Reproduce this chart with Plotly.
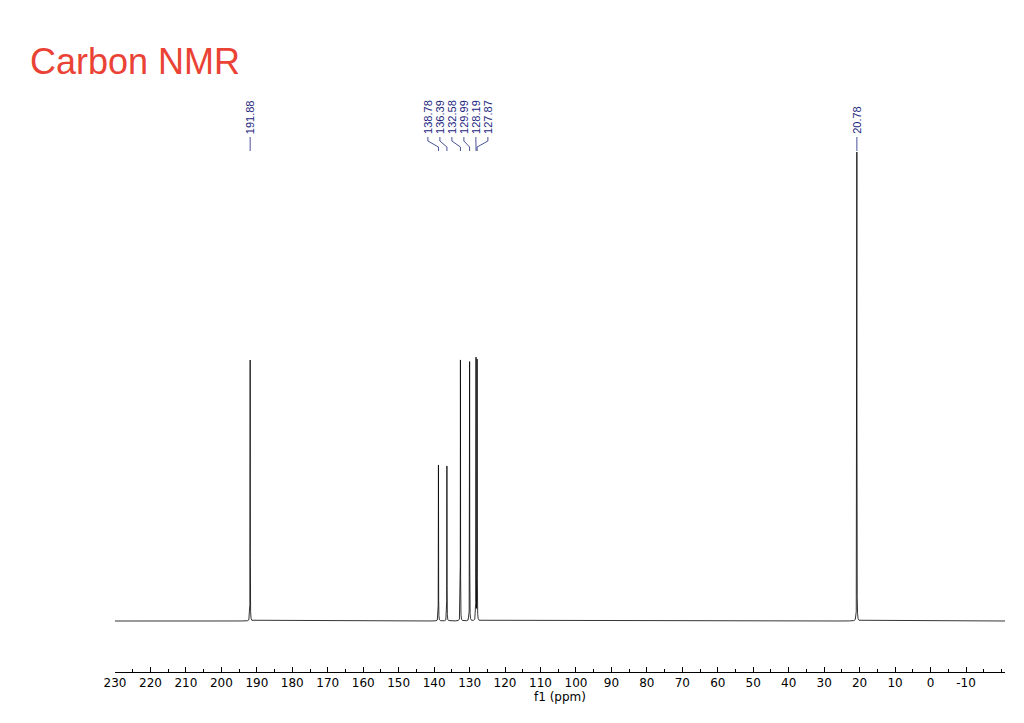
import numpy as np
import plotly.graph_objects as go

shifts = [191.88, 138.78, 136.39, 132.58, 129.99, 128.19, 127.87, 20.78]
heights = [261, 156, 156, 261, 261, 264, 262, 469]
labels = ["191.88", "138.78", "136.39", "132.58", "129.99", "128.19", "127.87", "20.78"]

W, H = 1024, 723
OFF = 8  # page body offset
L, R, T, B = 115 - OFF, 19 + OFF, 100 - OFF, 51 + OFF
xmax, xmin = 230.0, -21.0
pxppm = (W - L - R) / (xmax - xmin)
hplot = H - T - B

x = np.arange(xmin, xmax, 0.004)
y = np.zeros_like(x)
g = 0.025
for s, h in zip(shifts, heights):
    y += h * g**2 / ((x - s) ** 2 + g**2)

fig = go.Figure(go.Scatter(x=x, y=y, mode="lines", line=dict(color="black", width=0.8), hoverinfo="skip"))

def ppy(py):
    # py = target screenshot pixel
    return (H - B - (py - OFF)) / hplot

lab_x = list(shifts)
cluster = [1, 2, 3, 4, 5, 6]
step = 12 / pxppm
center = np.mean([shifts[i] for i in cluster]) + 1.0
for k, i in enumerate(cluster):
    lab_x[i] = center + (len(cluster) - 1) / 2 * step - k * step

navy = "#1c2680"
shapes = []
anns = []
for s, lx, lab in zip(shifts, lab_x, labels):
    pts = [(lx, 137), (lx, 141), (s, 147), (s, 151)]
    path = "M " + " L ".join(f"{a},{ppy(b)}" for a, b in pts)
    shapes.append(dict(type="path", path=path, xref="x", yref="paper", line=dict(color=navy, width=0.8)))
    anns.append(dict(x=lx, y=ppy(136), xref="x", yref="paper", text=lab, textangle=-90,
                     showarrow=False, xanchor="center", yanchor="bottom",
                     font=dict(family="Liberation Sans Narrow, Arial", size=11, color=navy)))

anns.append(dict(x=(28 - OFF - L) / (W - L - R), y=ppy(62), xref="paper", yref="paper", text="Carbon NMR",
                 showarrow=False, xanchor="left", yanchor="middle",
                 font=dict(family="Liberation Sans, Arial", size=36, color="#ea4335")))
fig.update_layout(
    width=W, height=H, margin=dict(l=L, r=R, t=T, b=B), plot_bgcolor="white", paper_bgcolor="white",
    showlegend=False, shapes=shapes, annotations=anns,
    xaxis=dict(range=[xmax, xmin], tickmode="array", tickvals=list(range(230, -11, -10)),
               ticktext=[str(v) for v in range(230, -11, -10)], ticks="inside", ticklen=5,
               tickcolor="black", showline=True, linecolor="black", linewidth=1, showgrid=False,
               zeroline=False, tickfont=dict(family="DejaVu Sans", size=12, color="black"),
               minor=dict(dtick=5, ticks="inside", ticklen=3, tickcolor="black"),
               title=dict(text="f1 (ppm)", standoff=0, font=dict(family="DejaVu Sans", size=12, color="black"))),
    yaxis=dict(range=[-51, hplot - 51], visible=False),
)
fig.write_html("out.html")
